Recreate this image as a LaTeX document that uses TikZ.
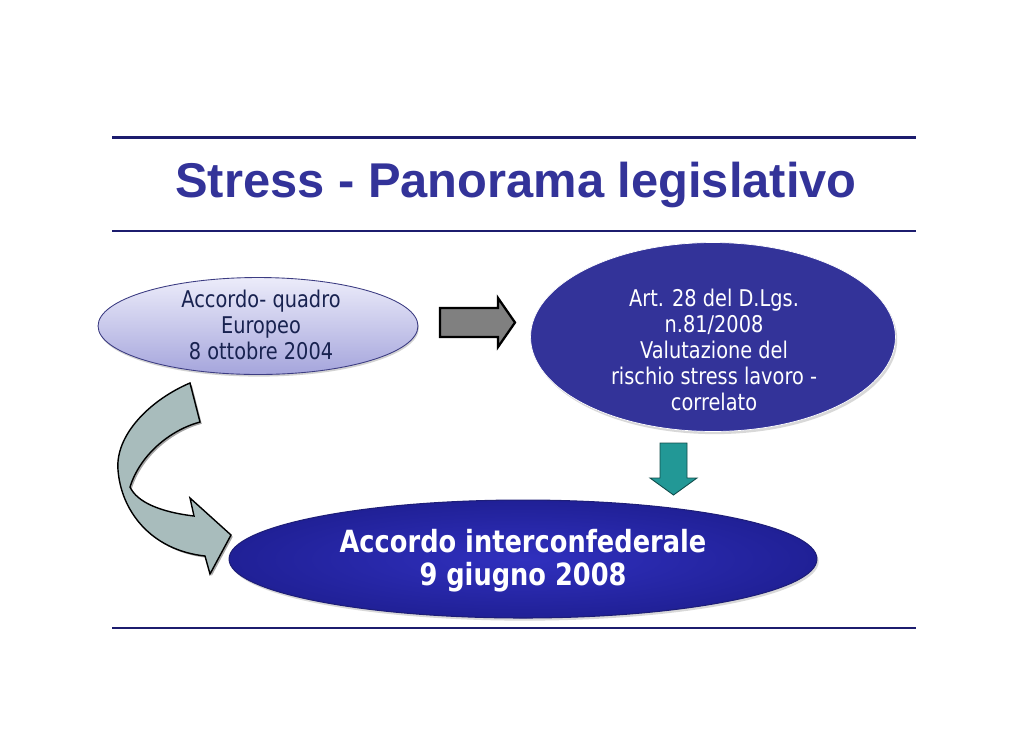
\documentclass[tikz,border=0pt]{standalone}
\usepackage{fontspec}
\setmainfont{Liberation Sans}
\newfontfamily\tahoma[FakeStretch=0.84]{DejaVu Sans}
\usetikzlibrary{shapes.geometric,shadows}

\definecolor{navy}{RGB}{28,28,110}
\definecolor{titleblue}{RGB}{51,51,153}
\definecolor{ovalblue}{RGB}{51,51,153}
\definecolor{inktext}{RGB}{24,34,80}
\definecolor{tealarrow}{RGB}{34,152,150}
\definecolor{ribbon}{RGB}{168,188,188}

\begin{document}
\begin{tikzpicture}[x=0.02cm,y=-0.02cm,
  oval/.style={ellipse,inner sep=0pt},
  ovaltext/.style={align=center,font=\tahoma\fontsize{13.1}{14.8}\selectfont},
  bigtext/.style={align=center,text=white,font=\tahoma\bfseries\fontsize{17.4}{18.8}\selectfont}]
   \useasboundingbox (0,0) rectangle (1030,728);

   % rules and title
   \draw[navy,line width=1.7pt] (112,137) -- (916,137);
   \draw[navy,line width=0.8pt] (112,231) -- (916,231);
   \draw[navy,line width=1.2pt] (112,628) -- (916,628);
   \node[anchor=base west,inner sep=0pt,text=titleblue,
         font=\bfseries\fontsize{27.8}{33}\selectfont] (title) at (175,197)
         {Stress - Panorama legislativo};

   % ellipses
   \node[oval,minimum width=6.4cm,minimum height=1.94cm,
         top color={rgb,255:red,236;green,236;blue,250},
         bottom color={rgb,255:red,165;green,165;blue,220},
         draw={rgb,255:red,60;green,60;blue,130},line width=0.5pt,
         drop shadow={shadow xshift=0.5pt,shadow yshift=-1.2pt,fill=gray!70}] (europa) at (258,326) {};
   \node[ovaltext,text=inktext] (europatext) at (261,325)
         {Accordo- quadro\\Europeo\\8 ottobre 2004};

   \node[oval,minimum width=7.3cm,minimum height=3.78cm,fill=ovalblue,
         draw=white,line width=0.4pt,
         drop shadow={shadow xshift=1pt,shadow yshift=-1.5pt,fill=gray!60}] (dlgs) at (713,337) {};
   \node[ovaltext,text=white] (dlgstext) at (714,350)
         {Art. 28 del D.Lgs.\\n.81/2008\\Valutazione del\\rischio stress lavoro -\\correlato};

   \node[oval,minimum width=11.76cm,minimum height=2.36cm,shading=radial,
         inner color={rgb,255:red,48;green,48;blue,190},
         outer color={rgb,255:red,32;green,32;blue,150},
         draw={rgb,255:red,30;green,30;blue,120},line width=0.6pt,
         drop shadow={shadow xshift=1pt,shadow yshift=-1.5pt,fill=gray!60}] (interconf) at (523,559) {};
   \node[bigtext] (interconftext) at (523,561)
         {Accordo interconfederale\\9 giugno 2008};

   % block arrows
   \draw[black,line width=1.3pt,fill=gray] (440,308) -- (498,308) -- (498,298)
      -- (515,322.5) -- (498,347) -- (498,337) -- (440,337) -- cycle;
   \draw[tealarrow!50!black,line width=0.5pt,fill=tealarrow] (660,443) -- (687,443)
      -- (687,478) -- (697,478) -- (673.5,495) -- (650,478) -- (660,478) -- cycle;

   % curved arrow
   \draw[black,line width=0.8pt,fill=ribbon,
         drop shadow={shadow xshift=1pt,shadow yshift=-1pt,fill=black!70}]
      (190,383) .. controls (150,400) and (115,435) .. (118,470)
      .. controls (121,510) and (150,550) .. (205,556) -- (210,574) -- (231,535)
      -- (190,498) -- (194,516) .. controls (160,512) and (137,502) .. (130,487)
      .. controls (140,455) and (170,430) .. (200,422) -- cycle;
\end{tikzpicture}
\end{document}
